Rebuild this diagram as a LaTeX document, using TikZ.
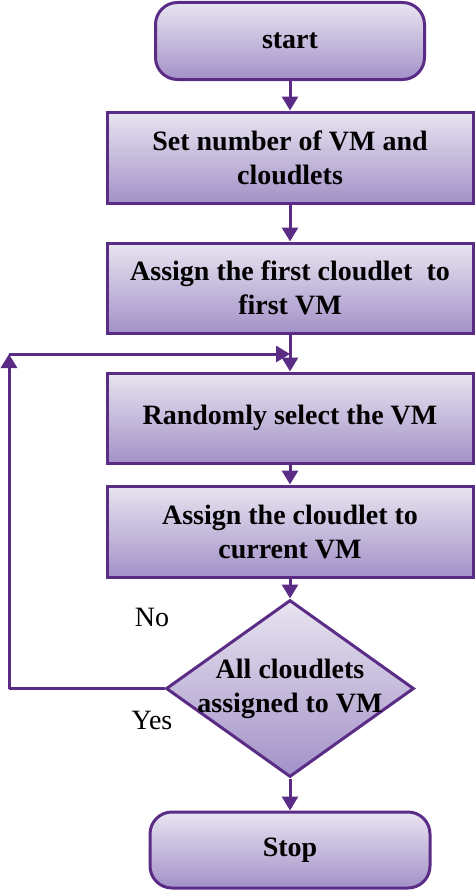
\documentclass[tikz,border=0pt]{standalone}
\usepackage{fontspec}
\setmainfont{Liberation Serif}
\usetikzlibrary{shapes.geometric,arrows.meta}
\definecolor{edge}{HTML}{5B2C86}
\definecolor{filltop}{HTML}{E8E4F0}
\definecolor{fillbot}{HTML}{A391C8}
\tikzset{
  base/.style={draw=edge, line width=3pt, top color=filltop, bottom color=fillbot,
    font=\fontsize{28}{34}\selectfont\bfseries, align=center, inner sep=0pt, text=black},
  procbox/.style={base, rectangle, minimum width=366pt, minimum height=91pt},
  termbox/.style={base, rectangle, rounded corners=22pt, minimum height=77pt},
  decbox/.style={base, diamond, minimum width=248pt, minimum height=177pt},
  dectext/.style={font=\fontsize{28}{34}\selectfont\bfseries, align=center, inner sep=0pt, text=black},
  arr/.style={draw=edge, line width=3pt, -{Triangle[length=14pt,width=16pt]}},
  plain/.style={draw=edge, line width=3pt},
  lbl/.style={font=\fontsize{28}{30}\selectfont, text=black, inner sep=0pt}
}
\begin{document}
\begin{tikzpicture}[x=1pt,y=-1pt]
\useasboundingbox (0,0) rectangle (474,891);
\node[termbox, minimum width=269pt] (start) at (290,41) {start};
\node[procbox] (b1) at (290,157.5) {Set number of VM and\\cloudlets};
\node[procbox, minimum height=90pt] (b2) at (290,288) {Assign the first cloudlet\ \ to\\first VM};
\node[procbox, minimum height=90pt] (b3) at (290,418) {Randomly select the VM};
\node[procbox] (b4) at (290,531.5) {Assign the cloudlet to\\current VM};
\node[decbox] (dec) at (290,688.5) {};
\node[dectext] (dect) at (290,688.5) {All cloudlets\\assigned to VM};
\node[termbox, minimum width=280pt, minimum height=76pt] (stop) at (290,850) {Stop};
\node[lbl] (no) at (152,617) {No};
\node[lbl] (yes) at (152,720) {Yes};
\coordinate (lb) at (9,688.5);
\coordinate (lt) at (9,354);
\coordinate (mj) at (290,354);
\draw[arr] (start) -- (b1);
\draw[arr] (b1) -- (b2);
\draw[arr] (b2) -- (b3);
\draw[arr] (b3) -- (b4);
\draw[arr] (b4.south) -- (dec.north);
\draw[arr] (dec.south) -- (stop.north);
\draw[plain] (dec.west) -- (lb);
\draw[arr] (lb) -- (lt);
\draw[arr] (lt) -- (mj);
\end{tikzpicture}
\end{document}
